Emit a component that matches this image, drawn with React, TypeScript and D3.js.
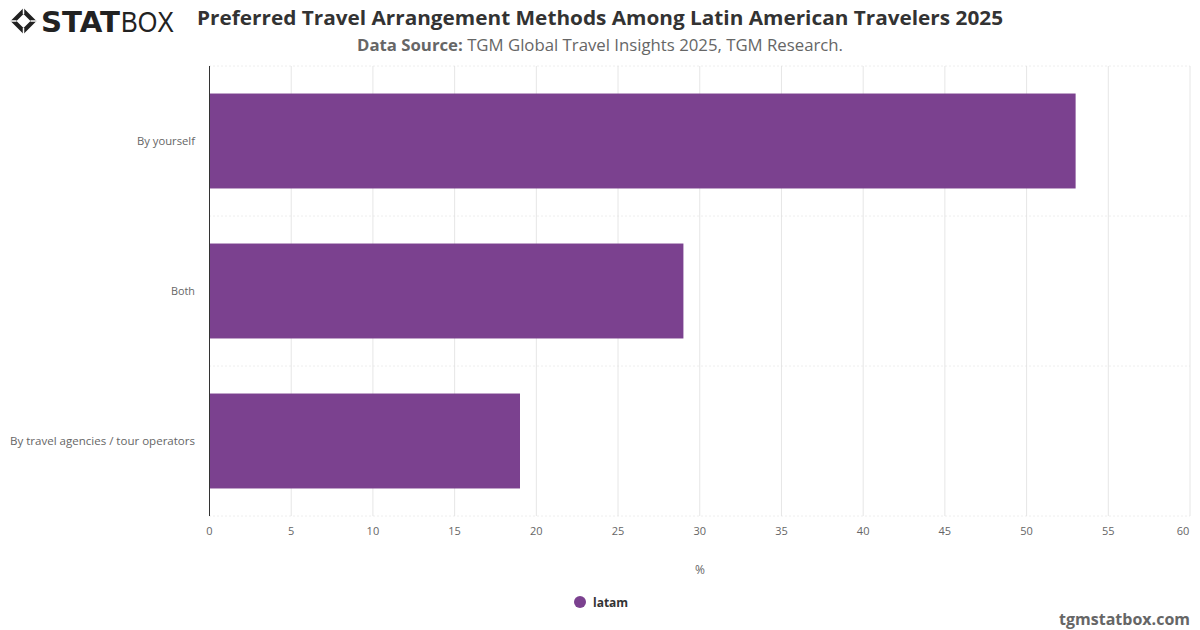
import React from 'react';
import * as d3 from 'd3';

const categories = ['By yourself', 'Both', 'By travel agencies / tour operators'];
const values = [53, 29, 19];
const xTicks = [0, 5, 10, 15, 20, 25, 30, 35, 40, 45, 50, 55, 60];
const seriesName = 'latam';

const W = 1200;
const H = 630;
const margin = { left: 209.5, right: 10, top: 66, bottom: 114 };
const purple = '#7b418f';

export default function App() {
  const x = d3.scaleLinear().domain([0, 60]).range([margin.left, W - margin.right]);
  const y = d3
    .scaleBand<string>()
    .domain(categories)
    .range([margin.top, H - margin.bottom])
    .paddingInner(0.367)
    .paddingOuter(0.1835);
  const step = y.step();
  const bandEdges = d3.range(categories.length + 1).map((i) => margin.top + i * step);
  const font = "'Open Sans', 'DejaVu Sans', sans-serif";
  const labelWidths = [58, 24, 185];

  return (
    <svg width={W} height={H} style={{ display: 'block', position: 'absolute', left: 0, top: 0 }} fontFamily={font}>
      <rect width={W} height={H} fill='#ffffff' />

      {/* logo */}
      <g transform='translate(23.5,21)'>
        <path d='M0,-13 L13,0 L0,13 L-13,0 Z M0,-7 L-7,0 L0,7 L7,0 Z' fill='#222' fillRule='evenodd' />
        <path d='M0,-13 L0,-7 M13,0 L7,0 M0,13 L0,7 M-13,0 L-7,0' stroke='#fff' strokeWidth={1.5} />
      </g>
      <text x={41} y={32} fontSize={29} fontWeight={900} fill='#222' fontFamily="'DejaVu Sans', sans-serif" textLength={79} lengthAdjust='spacingAndGlyphs'>STAT</text>
      <text x={121} y={32} fontSize={29} fontWeight={300} fill='#222' fontFamily="'Liberation Sans', sans-serif" textLength={53} lengthAdjust='spacingAndGlyphs'>BOX</text>

      {/* title */}
      <text x={600} y={25} textAnchor='middle' fontSize={20} fontWeight='bold' fill='#333' textLength={806} lengthAdjust='spacingAndGlyphs'>
        Preferred Travel Arrangement Methods Among Latin American Travelers 2025
      </text>
      <text x={600} y={51} textAnchor='middle' fontSize={16} fill='#666' textLength={486} lengthAdjust='spacingAndGlyphs'>
        <tspan fontWeight='bold'>Data Source: </tspan>TGM Global Travel Insights 2025, TGM Research.
      </text>

      {/* vertical grid */}
      {xTicks.map((t) => (
        <line key={'g' + t} x1={x(t)} x2={x(t)} y1={margin.top} y2={H - margin.bottom} stroke='#e6e6e6' strokeWidth={1} />
      ))}
      {/* horizontal dotted grid */}
      {bandEdges.map((yy, i) => (
        <line key={'h' + i} x1={margin.left} x2={W - margin.right} y1={yy} y2={yy} stroke='#dcdcdc' strokeWidth={1} strokeDasharray='1,3' />
      ))}

      {/* bars */}
      {categories.map((c, i) => (
        <rect key={c} x={x(0)} y={y(c)} width={x(values[i]) - x(0)} height={y.bandwidth()} fill={purple} />
      ))}

      {/* y axis line */}
      <line x1={margin.left} x2={margin.left} y1={margin.top} y2={H - margin.bottom} stroke='#333' strokeWidth={1} />

      {/* y labels */}
      {categories.map((c, i) => (
        <text key={'l' + c} x={195} y={(y(c) ?? 0) + y.bandwidth() / 2 + 4} textAnchor='end' fontSize={11} fill='#666' textLength={labelWidths[i]} lengthAdjust='spacingAndGlyphs'>
          {c}
        </text>
      ))}

      {/* x labels */}
      {xTicks.map((t) => (
        <text key={'t' + t} x={t === 60 ? x(t) - 7 : x(t)} y={535} textAnchor='middle' fontSize={11} fill='#666'>
          {t}
        </text>
      ))}
      <text x={700} y={574} textAnchor='middle' fontSize={12} fill='#666'>%</text>

      {/* legend */}
      <circle cx={580} cy={602} r={6} fill={purple} />
      <text x={593} y={607} fontSize={12} fontWeight='bold' fill='#333'>{seriesName}</text>

      {/* watermark */}
      <text x={1190} y={625} textAnchor='end' fontSize={16} fontWeight='bold' fill='#666'>tgmstatbox.com</text>
    </svg>
  );
}
